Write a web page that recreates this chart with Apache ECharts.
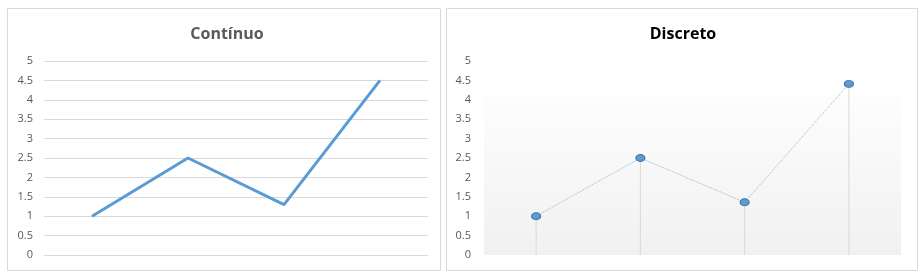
<!DOCTYPE html>
<html><head><meta charset="utf-8">
<script src="https://cdn.jsdelivr.net/npm/echarts@6/dist/echarts.min.js"></script>
<style>html,body{margin:0;padding:0;background:#fff}#c{width:924px;height:278px}</style>
</head><body><div id="c"></div>
<script>
const categories = ["1", "2", "3", "4"];
const continuoValues = [1, 2.5, 1.3, 4.5];
const discretoValues = [1, 2.5, 1.36, 4.41];
const yTicks = [0, 0.5, 1, 1.5, 2, 2.5, 3, 3.5, 4, 4.5, 5];

const chart = echarts.init(document.getElementById('c'), null, {renderer: 'canvas'});
const font = '"Open Sans", "Liberation Sans", sans-serif';
const yAxisBase = (idx, margin) => ({
  gridIndex: idx, type: 'value', min: yTicks[0], max: yTicks[yTicks.length - 1], interval: 0.5,
  axisLine: {show: false}, axisTick: {show: false},
  axisLabel: {color: '#595959', fontSize: 11, fontFamily: font, margin: margin},
  splitLine: {show: idx === 0, lineStyle: {color: '#d9d9d9', width: 1}}
});
chart.setOption({
  animation: false,
  graphic: [
    {type: 'rect', shape: {x: 7.5, y: 8.5, width: 433, height: 262}, style: {fill: 'none', stroke: '#d9d9d9', lineWidth: 1}, z: -10},
    {type: 'rect', shape: {x: 446.5, y: 8.5, width: 471, height: 262}, style: {fill: 'none', stroke: '#d9d9d9', lineWidth: 1}, z: -10}
  ],
  title: [
    {text: 'Contínuo', left: 222, top: 21, textAlign: 'center',
     textStyle: {color: '#595959', fontSize: 16, fontWeight: 'bold', fontFamily: font}},
    {text: 'Discreto', left: 678, top: 21, textAlign: 'center',
     textStyle: {color: '#000000', fontSize: 16, fontWeight: 'bold', fontFamily: font}}
  ],
  grid: [
    {left: 44, top: 61, width: 384, height: 194},
    {left: 484, top: 61, width: 417, height: 194, show: true, borderWidth: 0,
     backgroundColor: {type: 'linear', x: 0, y: 0, x2: 0, y2: 1,
       colorStops: [{offset: 0, color: '#ffffff'}, {offset: 0.17, color: '#ffffff'}, {offset: 0.18, color: '#fdfdfd'}, {offset: 1, color: '#f1f1f1'}]}}
  ],
  xAxis: [
    {gridIndex: 0, type: 'category', data: categories, boundaryGap: true,
     axisLine: {show: false}, axisTick: {show: false}, axisLabel: {show: false}, splitLine: {show: false}},
    {gridIndex: 1, type: 'category', data: categories, boundaryGap: true,
     axisLine: {show: false}, axisTick: {show: false}, axisLabel: {show: false}, splitLine: {show: false}}
  ],
  yAxis: [yAxisBase(0, 11), yAxisBase(1, 13)],
  series: [
    {type: 'line', xAxisIndex: 0, yAxisIndex: 0, data: continuoValues, showSymbol: false,
     lineStyle: {color: '#5b9bd5', width: 3}, itemStyle: {color: '#5b9bd5'}},
    {type: 'bar', xAxisIndex: 1, yAxisIndex: 1, data: discretoValues, barWidth: 1,
     itemStyle: {color: '#d9d9d9'}, z: 1},
    {type: 'line', xAxisIndex: 1, yAxisIndex: 1, data: discretoValues, symbol: 'circle', symbolSize: [9, 7],
     lineStyle: {color: '#8fb8e0', width: 1, type: [1, 1]},
     itemStyle: {color: '#5b9bd5', borderColor: '#41719c', borderWidth: 1}, z: 3}
  ]
});
</script></body></html>
